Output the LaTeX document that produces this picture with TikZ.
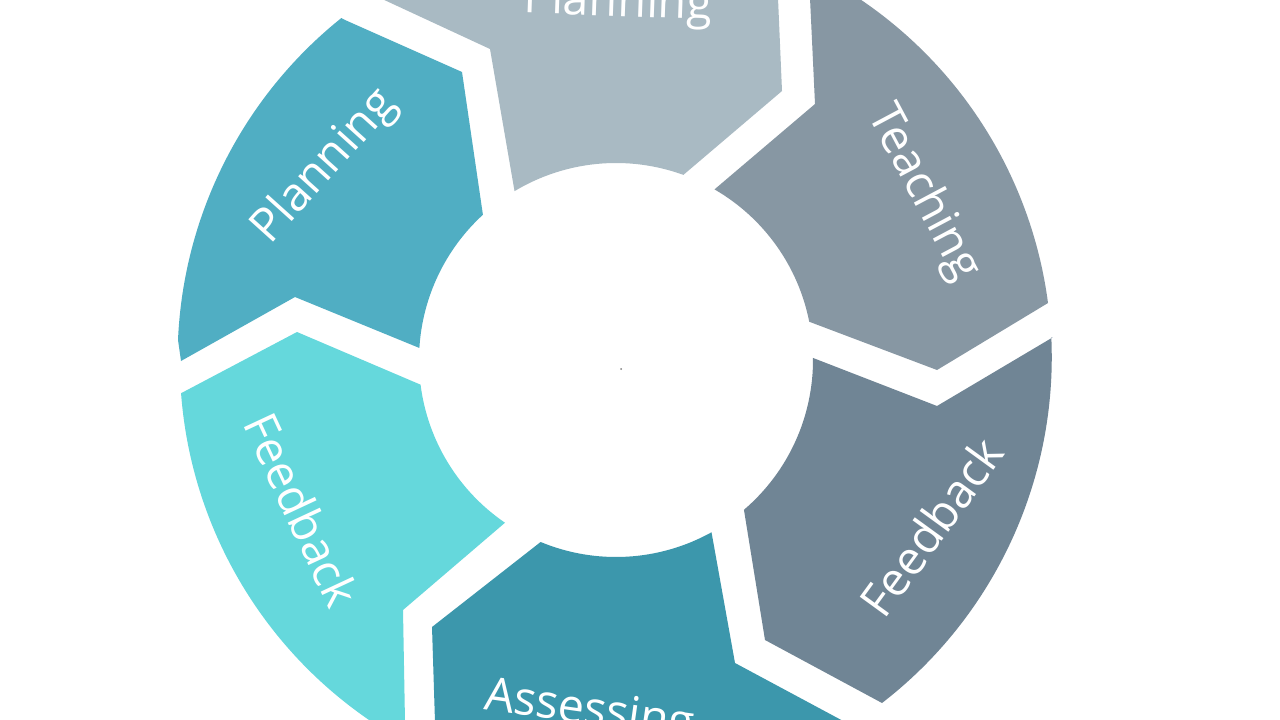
\documentclass[tikz,border=0pt]{standalone}
\usepackage{fontspec}
\setmainfont{Open Sans}
\usetikzlibrary{calc}
\tikzset{
  seg/.style={draw=none},
  lab/.style={text=white,font=\fontsize{35}{40}\selectfont,inner sep=0pt,anchor=center},
}
\definecolor{cTop}{HTML}{A9BAC3}
\definecolor{cTeach}{HTML}{8797A3}
\definecolor{cFeedR}{HTML}{708595}
\definecolor{cAssess}{HTML}{3C97AC}
\definecolor{cFeedL}{HTML}{65D8DC}
\definecolor{cPlan}{HTML}{50AEC3}
\begin{document}
\begin{tikzpicture}[x=0.75pt,y=0.75pt]
\useasboundingbox (0,-720) rectangle (1280,0);
\clip (0,-720) rectangle (1280,0);
\fill[white] (0,-720) rectangle (1280,0);
\coordinate (c) at (616,-360);
% top segment
\fill[cTop,seg] (380,2) -- (490,-49) -- ($(c)+(121:197)$) arc[start angle=121,end angle=70,radius=197] -- (782,-91) -- (778,2) -- cycle;
% teaching
\fill[cTeach,seg] (810,2) -- (815,-104) -- ($(c)+(60:197)$) arc[start angle=60,end angle=11.2,radius=197] -- (937,-370) -- (1048,-303) arc[start angle=7.5,end angle=56.5,radius=435] -- (860,2) -- cycle;
% feedback right
\fill[cFeedR,seg] (1052.5,-337.5) -- (937,-406) -- ($(c)+(0.6:197)$) arc[start angle=0.6,end angle=-49.5,radius=197] -- (765,-640) -- (882,-703) arc[start angle=-52.3,end angle=2.6,radius=437] -- cycle;
% assessing
\fill[cAssess,seg] ($(c)+(-61:197)$) -- (735,-663) -- (845,-722) -- (435,-722) -- (432,-627) -- ($(c)+(-112.5:197)$) arc[start angle=-112.5,end angle=-61,radius=197] -- cycle;
% feedback left
\fill[cFeedL,seg] (297,-332) -- ($(c)+(187.2:197)$) arc[start angle=187.2,end angle=235.7,radius=197] -- (403,-610) -- (405,-722) -- (372,-722) arc[start angle=236,end angle=184.3,radius=436] -- cycle;
% planning left
\fill[cPlan,seg] (345,-20) -- (462,-72) -- ($(c)+(132.5:197)$) arc[start angle=132.5,end angle=176.5,radius=197] -- (295,-297) -- (181,-361) -- (178,-340) arc[start angle=177.5,end angle=128.7,radius=437] -- cycle;
\fill[gray] (621,-369) circle[radius=1];
\node[lab,rotate=-2] (t1) at (618,-4) {Planning};
\node[lab,rotate=48] (t2) at (325,-167) {Planning};
\node[lab,rotate=-62] (t3) at (923,-193) {Teaching};
\node[lab,rotate=54] (t4) at (931,-527) {Feedback};
\node[lab,rotate=-8] (t5) at (589,-713) {Assessing};
\node[lab,rotate=-65] (t6) at (302,-510) {Feedback};
\end{tikzpicture}
\end{document}
